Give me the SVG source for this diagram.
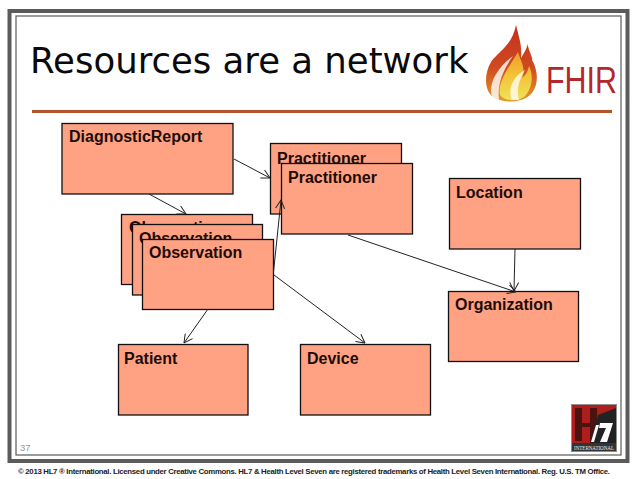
<svg xmlns="http://www.w3.org/2000/svg" width="638" height="479" viewBox="0 0 638 479">
<style>
.n{fill:#ffa284;stroke:#111;stroke-width:1.3}
.l{font:bold 16px "Liberation Sans",Arial,sans-serif;fill:#1c0c08}
.c{fill:none;stroke:#222;stroke-width:1}
</style>
<defs>
<marker id="a" viewBox="0 0 10 10" refX="9.5" refY="5" markerWidth="10" markerHeight="10" markerUnits="userSpaceOnUse" orient="auto"><path d="M1 0.5L9.5 5L1 9.5" fill="none" stroke="#222" stroke-width="1"/></marker>
<linearGradient id="fl" x1="0" y1="0" x2="0" y2="1"><stop offset="0" stop-color="#c4301e"/><stop offset="0.55" stop-color="#cf4a20"/><stop offset="1" stop-color="#e39a2a"/></linearGradient>
<linearGradient id="yl" x1="0" y1="0" x2="0" y2="1"><stop offset="0" stop-color="#ef9a2a"/><stop offset="0.5" stop-color="#f3c438"/><stop offset="1" stop-color="#efe25a"/></linearGradient>
</defs>
<rect width="638" height="479" fill="#fff"/>
<g id="frame">
<rect x="9.500" y="11" width="618" height="450" fill="none" stroke="#5b5b5b" stroke-width="4"/>
<rect x="16" y="16" width="605" height="439" fill="none" stroke="#5b5b5b" stroke-width="1.200"/>
</g>
<text x="30" y="73" font-family="DejaVu Sans,Verdana,sans-serif" font-size="35.500" fill="#0a0a0a">Resources are a network</text>
<rect x="32" y="110" width="580" height="3" fill="#b5532a"/>
<g id="fhir-logo">
<path d="M516 25C519 38 522 44 521 58C526 50 528 46 527 43C530 54 533 58 532 60C538 70 539 84 532 93C524 103 504 104 493 97C484 90 484 74 491 62C498 52 512 46 516 25Z" fill="url(#fl)"/>
<path d="M518 52C521 62 526 68 522 78C527 74 528 70 529 66C534 76 532 90 524 97C516 102 504 101 500 95C497 84 508 68 518 52Z" fill="url(#yl)"/>
<path d="M492 97C488 84 497 68 513 56C503 70 497 84 499 100Z" fill="#fff" opacity=".8"/>
<path d="M512 100C507 88 514 76 525 70C519 80 516 90 519 100Z" fill="#fff" opacity=".75"/>
<text x="546" y="93" font-family="Liberation Sans,Arial,sans-serif" font-size="36" fill="#b4272b" textLength="71" lengthAdjust="spacingAndGlyphs">FHIR</text>
</g>
<g id="diagnosticreport"><rect class="n" x="62" y="123.500" width="171" height="70.500"/><text class="l" x="69" y="142">DiagnosticReport</text></g>
<g id="practitioner-1"><rect class="n" x="270.500" y="143.500" width="131" height="70.500"/><text class="l" x="277" y="164">Practitioner</text></g>
<g id="practitioner-2"><rect class="n" x="281.500" y="163.500" width="131" height="70.500"/><text class="l" x="288" y="183">Practitioner</text></g>
<g id="location"><rect class="n" x="449.500" y="178.500" width="131" height="70.500"/><text class="l" x="456" y="198">Location</text></g>
<g id="observation-1"><rect class="n" x="121.500" y="214.500" width="131" height="70"/><text class="l" x="129" y="233">Observation</text></g>
<g id="observation-2"><rect class="n" x="132.500" y="224.500" width="130" height="70.500"/><text class="l" x="139" y="244">Observation</text></g>
<g id="observation-3"><rect class="n" x="142.500" y="239.500" width="131" height="70"/><text class="l" x="149" y="258">Observation</text></g>
<g id="organization"><rect class="n" x="448.500" y="291.500" width="130" height="70"/><text class="l" x="455" y="310">Organization</text></g>
<g id="patient"><rect class="n" x="118.500" y="344.500" width="129.500" height="70.500"/><text class="l" x="124" y="364">Patient</text></g>
<g id="device"><rect class="n" x="300.500" y="344.500" width="130" height="70.500"/><text class="l" x="307" y="364">Device</text></g>
<g id="connectors">
<path class="c" marker-end="url(#a)" d="M234 159L270 178"/>
<path class="c" marker-end="url(#a)" d="M149 194L186 214"/>
<path class="c" marker-end="url(#a)" d="M273.500 272L281 200"/>
<path class="c" marker-end="url(#a)" d="M208 309L184 343"/>
<path class="c" marker-end="url(#a)" d="M274 275L365 343"/>
<path class="c" marker-end="url(#a)" d="M348 235L516 292"/>
<path class="c" marker-end="url(#a)" d="M515 249L514 291"/>
</g>
<text x="20" y="451" font-family="Liberation Sans,Arial,sans-serif" font-size="9.500" fill="#999">37</text>
<g id="hl7-logo">
<rect x="571" y="404" width="46" height="48" fill="#8f8f8f"/>
<rect x="572" y="405" width="44" height="38" fill="#b01e1c"/>
<path d="M575 408H582V423H590V408H597V443H590V427H582V441H575Z" fill="#4a1210"/>
<path d="M598 415L616 408V443H592Z" fill="#222"/>
<path d="M600 423H613L607 442H600L606 428H599Z" fill="#fff"/>
<path d="M596 425L599 425L594 442L591 442Z" fill="#fff"/>
<rect x="572" y="443" width="44" height="8" fill="#333"/>
<text x="594" y="450" text-anchor="middle" font-family="Liberation Serif,serif" font-size="5.500" fill="#eee" textLength="40" lengthAdjust="spacingAndGlyphs">INTERNATIONAL</text>
</g>
<text x="18" y="474" font-family="Liberation Sans,Arial,sans-serif" font-weight="bold" font-size="7.800" fill="#222" textLength="592" lengthAdjust="spacing">© 2013 HL7 ® International. Licensed under Creative Commons. HL7 &amp; Health Level Seven are registered trademarks of Health Level Seven International. Reg. U.S. TM Office.</text>
</svg>
